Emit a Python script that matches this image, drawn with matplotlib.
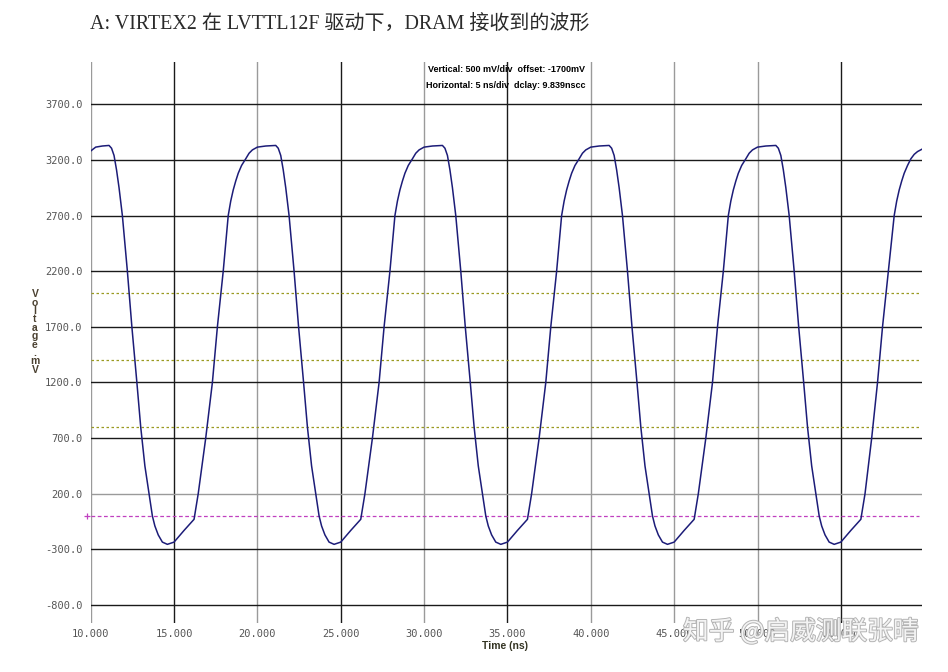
import matplotlib
matplotlib.use("Agg")
import matplotlib.pyplot as plt
import matplotlib.transforms as mtransforms
import matplotlib.patheffects as pe

plt.rcParams['font.family'] = ['DejaVu Sans', 'Noto Sans CJK SC']

# waveform (time in ns, voltage in mV)
t_ns = [
    10.0, 10.3, 10.7,
    11.1, 11.25, 11.4, 11.55, 11.7, 11.9, 12.2, 12.47, 12.77, 13.0, 13.25, 13.5, 13.7, 13.85, 14.05, 14.3, 14.6, 15.0,
    15.6, 16.2, 16.45, 16.9, 17.3, 17.6, 17.95, 18.25, 18.4, 18.55, 18.7, 18.85, 19.05, 19.3, 19.5, 19.7, 20.0, 20.5,
    21.1, 21.25, 21.4, 21.55, 21.7, 21.9, 22.2, 22.47, 22.77, 23.0, 23.25, 23.5, 23.7, 23.85, 24.05, 24.3, 24.6, 25.0,
    25.6, 26.2, 26.45, 26.9, 27.3, 27.6, 27.95, 28.25, 28.4, 28.55, 28.7, 28.85, 29.05, 29.3, 29.5, 29.7, 30.0, 30.5,
    31.1, 31.25, 31.4, 31.55, 31.7, 31.9, 32.2, 32.47, 32.77, 33.0, 33.25, 33.5, 33.7, 33.85, 34.05, 34.3, 34.6, 35.0,
    35.6, 36.2, 36.45, 36.9, 37.3, 37.6, 37.95, 38.25, 38.4, 38.55, 38.7, 38.85, 39.05, 39.3, 39.5, 39.7, 40.0, 40.5,
    41.1, 41.25, 41.4, 41.55, 41.7, 41.9, 42.2, 42.47, 42.77, 43.0, 43.25, 43.5, 43.7, 43.85, 44.05, 44.3, 44.6, 45.0,
    45.6, 46.2, 46.45, 46.9, 47.3, 47.6, 47.95, 48.25, 48.4, 48.55, 48.7, 48.85, 49.05, 49.3, 49.5, 49.7, 50.0, 50.5,
    51.1, 51.25, 51.4, 51.55, 51.7, 51.9, 52.2, 52.47, 52.77, 53.0, 53.25, 53.5, 53.7, 53.85, 54.05, 54.3, 54.6, 55.0,
    55.6, 56.2, 56.45, 56.85, 57.2, 57.5, 57.85, 58.2, 58.35, 58.5, 58.65, 58.8, 59.0, 59.2, 59.4, 59.6, 59.85,
]
v_mv = [
    3280, 3315, 3325,
    3330, 3305, 3240, 3110, 2950, 2700, 2200, 1700, 1200, 800, 450, 200, 0, -90, -170, -235, -255, -235,
    -130, -30, 200, 700, 1200, 1700, 2200, 2700, 2830, 2930, 3010, 3080, 3150, 3210, 3260, 3290, 3315, 3325,
    3330, 3305, 3240, 3110, 2950, 2700, 2200, 1700, 1200, 800, 450, 200, 0, -90, -170, -235, -255, -235,
    -130, -30, 200, 700, 1200, 1700, 2200, 2700, 2830, 2930, 3010, 3080, 3150, 3210, 3260, 3290, 3315, 3325,
    3330, 3305, 3240, 3110, 2950, 2700, 2200, 1700, 1200, 800, 450, 200, 0, -90, -170, -235, -255, -235,
    -130, -30, 200, 700, 1200, 1700, 2200, 2700, 2830, 2930, 3010, 3080, 3150, 3210, 3260, 3290, 3315, 3325,
    3330, 3305, 3240, 3110, 2950, 2700, 2200, 1700, 1200, 800, 450, 200, 0, -90, -170, -235, -255, -235,
    -130, -30, 200, 700, 1200, 1700, 2200, 2700, 2830, 2930, 3010, 3080, 3150, 3210, 3260, 3290, 3315, 3325,
    3330, 3305, 3240, 3110, 2950, 2700, 2200, 1700, 1200, 800, 450, 200, 0, -90, -170, -235, -255, -235,
    -130, -30, 200, 700, 1200, 1700, 2200, 2700, 2830, 2930, 3010, 3080, 3150, 3210, 3250, 3275, 3295,
]

x_ticks = [10, 15, 20, 25, 30, 35, 40, 45, 50, 55]
x_labels = ['10.000', '15.000', '20.000', '25.000', '30.000', '35.000', '40.000', '45.000', '50.000', '55.000']
y_ticks = [-800, -300, 200, 700, 1200, 1700, 2200, 2700, 3200, 3700]
y_labels = ['-800.0', '-300.0', '200.0', '700.0', '1200.0', '1700.0', '2200.0', '2700.0', '3200.0', '3700.0']

threshold_levels = [2000, 1400, 800]   # olive dotted markers
ref_level = 0                          # magenta reference

title = 'A: VIRTEX2 在 LVTTL12F 驱动下，DRAM 接收到的波形'
header1 = 'Vertical: 500 mV/div  offset: -1700mV'
header2 = 'Horizontal: 5 ns/div  dclay: 9.839nscc'

fig = plt.figure(figsize=(9.48, 6.72), dpi=100)
ax = fig.add_axes([90.7 / 948, 49 / 672, 831 / 948, 561 / 672])
ax.set_xlim(10, 59.85)
ax.set_ylim(-962, 4080)
for s in ax.spines.values():
    s.set_visible(False)

# grid: some lines dark, some light like the scope screen
dark_x = [15, 25, 35, 55]
for x in x_ticks:
    ax.axvline(x, color='#1a1a1a' if x in dark_x else '#9a9a9a', lw=1.0, zorder=1)
for y in y_ticks:
    ax.axhline(y, color='#9a9a9a' if y == 200 else '#1a1a1a', lw=1.0, zorder=1)

for lv in threshold_levels:
    ax.plot([10, 59.7], [lv, lv], color='#9a9a20', lw=0.9, ls=(0, (2, 2)), zorder=2)
ax.plot([10, 59.7], [ref_level, ref_level], color='#c040c0', lw=0.9, ls=(0, (3, 2)), zorder=2)
shift = mtransforms.ScaledTranslation(-4 / 100, 0, fig.dpi_scale_trans)
ax.plot([10], [ref_level], marker='+', color='#c040c0', ms=4, mew=0.9,
        transform=ax.transData + shift, clip_on=False, zorder=3)

ax.plot(t_ns, v_mv, color='#1c1c78', lw=1.1, zorder=4)

ax.set_xticks(x_ticks)
ax.set_xticklabels(x_labels)
ax.set_yticks(y_ticks)
ax.set_yticklabels(y_labels)
ax.tick_params(length=0, labelsize=7.5, labelcolor='#555555')
ax.tick_params(axis='x', pad=4)
ax.tick_params(axis='y', pad=6)
for lab in ax.get_xticklabels() + ax.get_yticklabels():
    lab.set_family('DejaVu Sans Mono')

ax.text(0.5, 1.0 - 3 / 561, header1, transform=ax.transAxes, ha='center', va='top',
        fontsize=6.5, color='#000000', family='Liberation Sans', fontweight='bold')
ax.text(0.5, 1.0 - 19 / 561, header2, transform=ax.transAxes, ha='center', va='top',
        fontsize=6.5, color='#000000', family='Liberation Sans', fontweight='bold')

fig.text(505 / 948, 1 - 646 / 672, 'Time (ns)', ha='center', va='center', fontsize=7.5,
         color='#333322', family='Liberation Sans', fontweight='bold')
fig.text(35 / 948, 1 - 332 / 672, '\n'.join('Voltage.mV'), ha='center', va='center',
         fontsize=7.5, linespacing=0.8, color='#4a4030', family='Liberation Sans',
         fontweight='bold')

fig.text(90 / 948, 1 - 24 / 672, title, ha='left', va='center', fontsize=14.4,
         color='#2a2a2a', family=['Liberation Serif', 'Noto Sans CJK SC'])

fig.text(683 / 948, 1 - 632 / 672, '知乎 @启威测联张晴', ha='left', va='center', fontsize=18.5,
         color='#f4f4f4', family=['Noto Sans CJK SC', 'DejaVu Sans'], zorder=10,
         path_effects=[pe.withStroke(linewidth=1.4, foreground='#b4b4b4')])

fig.savefig('out.png', dpi=100)
